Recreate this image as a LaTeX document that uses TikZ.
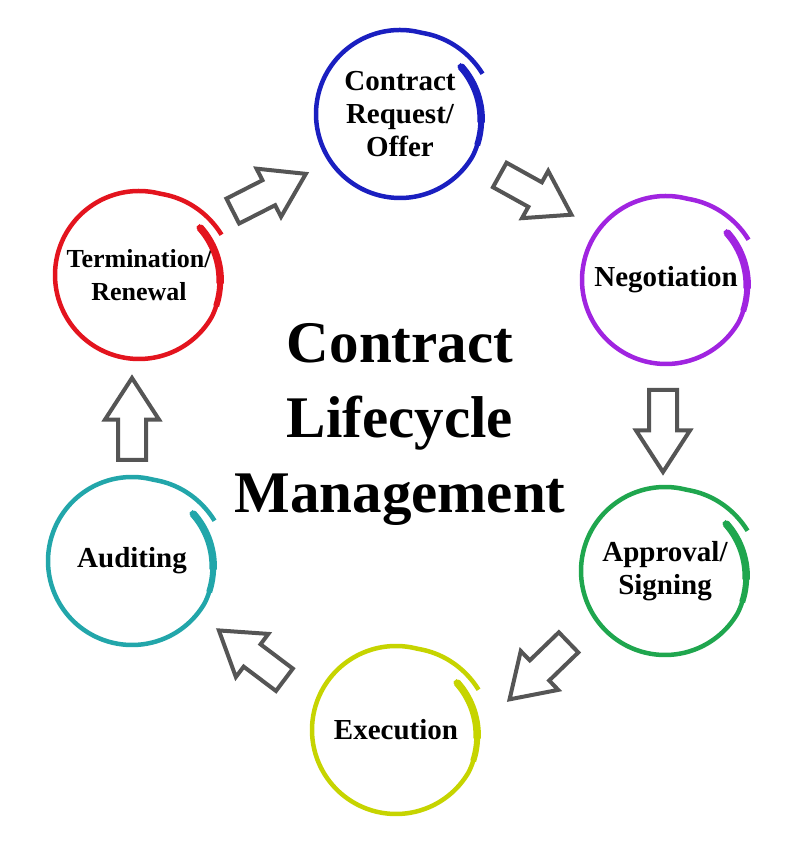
\documentclass[tikz,border=0pt]{standalone}
\usepackage{fontspec}
\setmainfont{Liberation Serif}
\usetikzlibrary{shapes.arrows}

\definecolor{cblue}{HTML}{1A1FC0}
\definecolor{cpurple}{HTML}{A024E0}
\definecolor{cgreen}{HTML}{1FA64E}
\definecolor{clime}{HTML}{C6D400}
\definecolor{cteal}{HTML}{22A6AA}
\definecolor{cred}{HTML}{E3141E}
\definecolor{cgrey}{HTML}{555555}

% hand drawn ring round a stage node
\newcommand\penring[2]{%
 \draw[#2, line width=4.5pt, shift={(#1.center)}] plot[smooth, domain=40:-334, samples=120]
  (\x:{84-0.1*max(0,\x+30)+0.16*max(0,-285-\x)});
 \draw[#2, line width=6pt, shift={(#1.center)}] plot[smooth, domain=39:-22, samples=20]
  (\x:{84-0.1*max(0,\x+30)});
 \draw[#2, line width=7.5pt, shift={(#1.center)}] plot[smooth, domain=38:-6, samples=20]
  (\x:{84-0.1*max(0,\x+30)});
}

\begin{document}
\begin{tikzpicture}[x=1pt, y=1pt]
 \tikzstyle{stage}=[circle, minimum size=168pt, inner sep=0pt, align=center, font=\bfseries\fontsize{29}{33}\selectfont]
 \tikzstyle{blk}=[single arrow, anchor=tail, draw=cgrey, fill=white, line width=4pt, minimum height=82pt, inner sep=12pt, single arrow head extend=13pt, single arrow tip angle=66]
 \useasboundingbox (0,0) rectangle (800,861);

 \node[stage] (req) at (400,747) {Contract\\Request/\\Offer};
 \node[stage] (neg) at (666,581) {Negotiation};
 \node[stage] (app) at (665,290) {Approval/\\Signing};
 \node[stage] (exe) at (396,131) {Execution};
 \node[stage] (aud) at (132,300) {Auditing};
 \node[stage, font=\bfseries\fontsize{26}{33}\selectfont] (ter) at (139,586) {Termination/\\Renewal};

 \penring{req}{cblue}
 \penring{neg}{cpurple}
 \penring{app}{cgreen}
 \penring{exe}{clime}
 \penring{aud}{cteal}
 \penring{ter}{cred}

 \node[blk, rotate=27] (a1) at (231,649) {};
 \node[blk, rotate=-29] (a2) at (498,687) {};
 \node[blk, rotate=-90] (a3) at (663,473) {};
 \node[blk, rotate=224] (a4) at (570,220) {};
 \node[blk, rotate=143] (a5) at (286,180) {};
 \node[blk, rotate=90] (a6) at (132,399) {};

 \node[font=\bfseries\fontsize{59}{75}\selectfont, align=center] (title) at (400,437) {Contract\\Lifecycle\\Management};
\end{tikzpicture}
\end{document}
